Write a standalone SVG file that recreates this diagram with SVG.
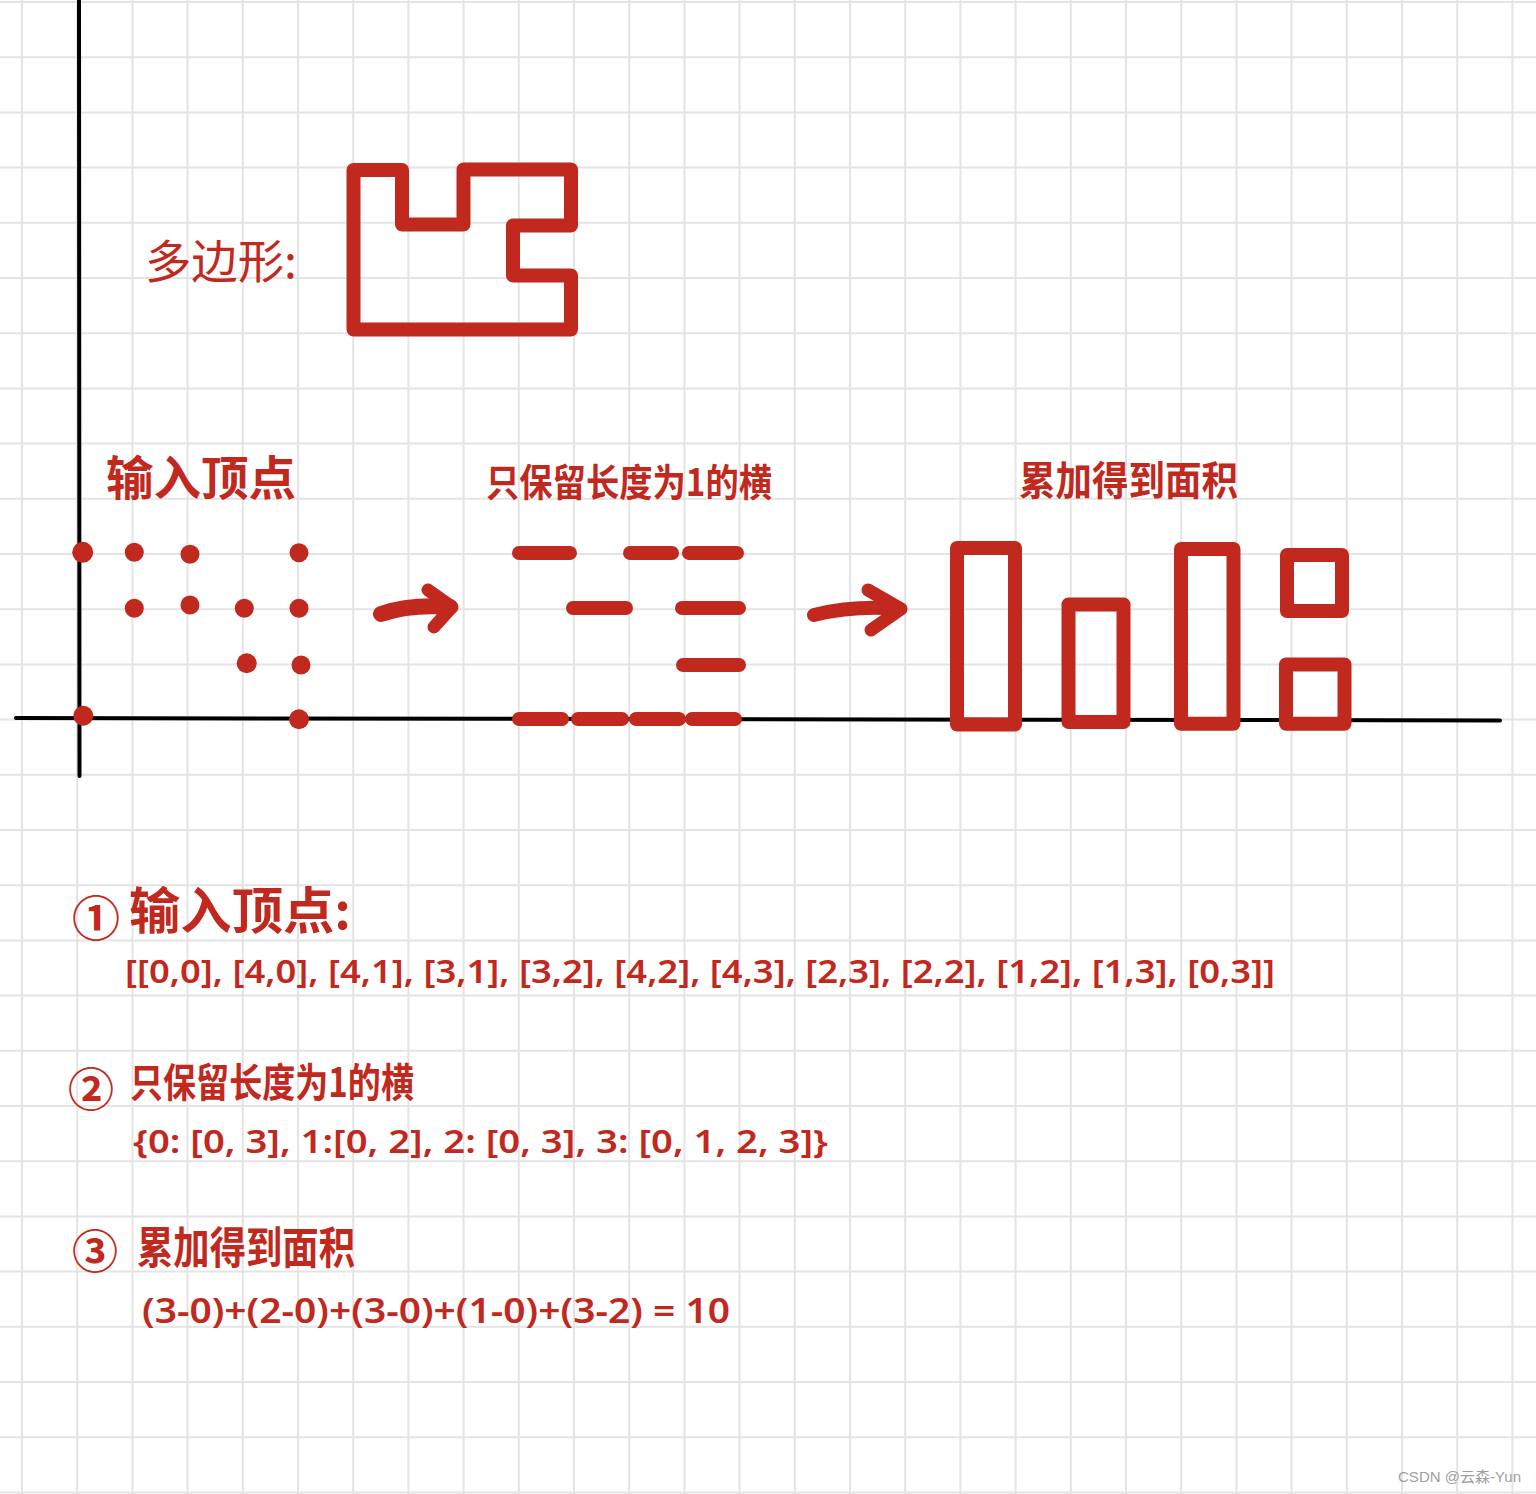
<svg xmlns="http://www.w3.org/2000/svg" width="1536" height="1494" viewBox="0 0 1536 1494">
<defs>
<style>
.grid{fill:none;stroke:#e4e4e4;stroke-width:2}
.axis{fill:none;stroke:#000;stroke-width:4;stroke-linecap:round}
.red{fill:none;stroke:#c1291e;stroke-linecap:round;stroke-linejoin:round}
.shape{stroke-width:14}
.seg{stroke-width:14}
.dot{fill:#c1291e}
.cn{fill:#c1291e;font-family:"Noto Sans CJK SC","Noto Sans",sans-serif;font-weight:700}
.thin{font-weight:400}
.num{fill:#c1291e;font-family:"Noto Sans","Noto Sans CJK SC",sans-serif;font-weight:600}
.wm{fill:#a0a0a0;font-family:"Liberation Sans","Noto Sans CJK SC",sans-serif;font-size:15px}
</style>
</defs>
<rect x="0" y="0" width="1536" height="1494" fill="#fff"/>
<g id="grid" class="grid">
<path d="M22,0V1494M77.2,0V1494M132.4,0V1494M187.6,0V1494M242.8,0V1494M298,0V1494M353.2,0V1494M408.4,0V1494M463.6,0V1494M518.8,0V1494M574,0V1494M629.2,0V1494M684.4,0V1494M739.6,0V1494M794.8,0V1494M850,0V1494M905.2,0V1494M960.4,0V1494M1015.6,0V1494M1070.8,0V1494M1126,0V1494M1181.2,0V1494M1236.4,0V1494M1291.6,0V1494M1346.8,0V1494M1402,0V1494M1457.2,0V1494M1512.4,0V1494"/>
<path d="M0,2H1536M0,57.2H1536M0,112.4H1536M0,167.6H1536M0,222.8H1536M0,278H1536M0,333.2H1536M0,388.4H1536M0,443.6H1536M0,498.8H1536M0,554H1536M0,609.2H1536M0,664.4H1536M0,719.6H1536M0,774.8H1536M0,830H1536M0,885.2H1536M0,940.4H1536M0,995.6H1536M0,1050.8H1536M0,1106H1536M0,1161.2H1536M0,1216.4H1536M0,1271.6H1536M0,1326.8H1536M0,1382H1536M0,1437.2H1536M0,1492.4H1536"/>
</g>
<g id="axes" class="axis">
<path d="M79,0 L79.5,776"/>
<path d="M16,718 L1500,720.5"/>
</g>
<g id="polygon-label"><text class="cn thin" x="145" y="278" font-size="46" textLength="152" lengthAdjust="spacingAndGlyphs">多边形:</text></g>
<g id="polygon"><path class="red shape" d="M353.5,170 L402,170 L402,224.5 L463.5,224.5 L463.5,169.5 L571,169.5 L571,225.5 L513,225.5 L513,275.5 L571,275.5 L571,329.5 L353.5,329.5 Z" stroke-width="13"/></g>
<g id="label-vertices"><text class="cn" x="106" y="495" font-size="47" textLength="190" lengthAdjust="spacingAndGlyphs">输入顶点</text></g>
<g id="label-horizontal"><text class="cn" x="486" y="496" font-size="38" textLength="286" lengthAdjust="spacingAndGlyphs">只保留长度为1的横</text></g>
<g id="label-area"><text class="cn" x="1019" y="495" font-size="40" textLength="219" lengthAdjust="spacingAndGlyphs">累加得到面积</text></g>
<g id="vertices">
<circle class="dot" cx="82.7" cy="552.3" r="10.5"/>
<circle class="dot" cx="134.3" cy="552.3" r="9.5"/>
<circle class="dot" cx="190" cy="554.3" r="9.5"/>
<circle class="dot" cx="299" cy="552.7" r="9.5"/>
<circle class="dot" cx="134.3" cy="608.3" r="9.5"/>
<circle class="dot" cx="190" cy="605" r="9.5"/>
<circle class="dot" cx="244.3" cy="608.3" r="9.5"/>
<circle class="dot" cx="299" cy="608.3" r="9.5"/>
<circle class="dot" cx="246.7" cy="663.3" r="10"/>
<circle class="dot" cx="301" cy="665" r="9.5"/>
<circle class="dot" cx="83.3" cy="715.7" r="10"/>
<circle class="dot" cx="299" cy="719.3" r="10"/>
</g>
<g id="segments" class="red seg">
<path d="M519,553 H570"/>
<path d="M630,553 H672"/>
<path d="M689,553 H737"/>
<path d="M573,608 H626"/>
<path d="M682,608 H739"/>
<path d="M683,665 H739"/>
<path d="M519,719 H562"/>
<path d="M578,719 H622"/>
<path d="M636,719 H679"/>
<path d="M692,719 H735"/>
</g>
<g id="bars" class="red shape">
<rect x="957" y="548" width="58" height="176.5"/>
<rect x="1068.5" y="604.5" width="55" height="117.5"/>
<rect x="1181" y="549" width="52.5" height="174.7"/>
<rect x="1287" y="555" width="55" height="56"/>
<rect x="1286" y="664.5" width="58.5" height="59.2"/>
</g>
<g id="connectors" class="red">
<g id="arrow-1">
<path d="M381,614 Q410,604 450,607" stroke-width="16"/>
<path d="M428,590 L452,607 L434,627" stroke-width="13"/>
</g>
<g id="arrow-2">
<path d="M814,615 Q855,605 900,609" stroke-width="14"/>
<path d="M868,590 L901,609 L871,630" stroke-width="13"/>
</g>
</g>
<g id="step-1">
<text class="cn" x="72" y="936" font-size="48">①</text>
<text class="cn" x="129" y="929" font-size="50" textLength="222" lengthAdjust="spacingAndGlyphs">输入顶点:</text>
<text class="num" x="125" y="983" font-size="33" textLength="1150" lengthAdjust="spacingAndGlyphs">[[0,0], [4,0], [4,1], [3,1], [3,2], [4,2], [4,3], [2,3], [2,2], [1,2], [1,3], [0,3]]</text>
</g>
<g id="step-2">
<text class="cn" x="68" y="1106" font-size="46">②</text>
<text class="cn" x="130" y="1097" font-size="40" textLength="284" lengthAdjust="spacingAndGlyphs">只保留长度为1的横</text>
<text class="num" x="133" y="1153" font-size="33" textLength="695" lengthAdjust="spacingAndGlyphs">{0: [0, 3], 1:[0, 2], 2: [0, 3], 3: [0, 1, 2, 3]}</text>
</g>
<g id="step-3">
<text class="cn" x="72" y="1268" font-size="46">③</text>
<text class="cn" x="137" y="1264" font-size="44" textLength="218" lengthAdjust="spacingAndGlyphs">累加得到面积</text>
<text class="num" x="142" y="1323" font-size="35" textLength="588" lengthAdjust="spacingAndGlyphs">(3-0)+(2-0)+(3-0)+(1-0)+(3-2) = 10</text>
</g>
<g id="watermark"><text class="wm" x="1398" y="1482" textLength="123" lengthAdjust="spacingAndGlyphs">CSDN @云森-Yun</text></g>
</svg>
